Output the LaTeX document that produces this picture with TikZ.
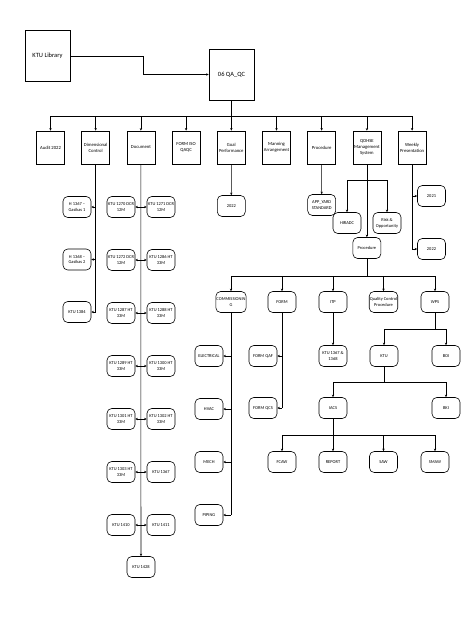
\documentclass[tikz,border=0pt]{standalone}
\usepackage{fontspec}
\setmainfont{Carlito}
\usetikzlibrary{arrows.meta}
\tikzset{mainbox/.style={draw,line width=0.6pt,minimum width=1.35cm,minimum height=1.53cm,font=\fontsize{5.5}{6.5}\selectfont}}
\tikzset{box/.style={draw,line width=0.6pt,minimum width=0.84cm,minimum height=0.99cm,align=center,inner sep=0.5pt,font=\fontsize{4}{5}\selectfont}}
\tikzset{leaf/.style={draw,line width=0.5pt,rounded corners=4pt,minimum width=0.84cm,minimum height=0.63cm,align=center,inner sep=0.5pt,font=\fontsize{3.8}{4.8}\selectfont}}
\tikzset{link/.style={-{Stealth[length=2.2pt,width=2pt]},line width=0.45pt}}
\tikzset{wire/.style={line width=0.45pt}}

\begin{document}
\begin{tikzpicture}[x=0.03cm,y=-0.03cm]
	\useasboundingbox (0,0) rectangle (474,632);

	% Topo
	\node[mainbox] (lib) at (47.5,56) {KTU Library};
	\node[mainbox] (qa) at (231.5,74.5) {06 QA\_QC};
	\coordinate (kink) at (143,74.5);
	\draw[link] (lib.east) -| (kink) -- (qa.west);

	% Categorias
	\coordinate (bus) at (0,116);
	\foreach \t [count=\i] in {Audit 2022,Dimensional\\Control,Document,FORM ISO\\QAQC,Goal\\Performance,Manning\\Arrangement,Procedure,QOHSE\\Management\\System,Weekly\\Presentation}
		\node[box] (c\i) at (50.5+45.2*\i-45.2,147.5) {\t};
	\draw[wire] (qa) -- (qa |- bus);
	\draw[wire] (c1 |- bus) -- (c9 |- bus);
	\foreach \i in {1,...,9}
		\draw[link] (c\i |- bus) -- (c\i);

	% Dimensional Control
	\foreach \t [count=\i] in {{H 1367 --\\Gasikas 1},{H 1368 --\\Gasikas 2},KTU 1384}
		\node[leaf] (dim\i) at (77,207+52.5*\i-52.5) {\t};
	\draw[wire] (c2) -- (c2 |- dim3);
	\foreach \i in {1,2,3}
		\draw[link] (c2 |- dim\i) -- (dim\i);

	% Document
	\foreach \l/\r [count=\i] in {{KTU 1270 DCR\\12M}/{KTU 1271 DCR\\12M},{KTU 1272 DCR\\12M}/{KTU 1286 HT\\33M},{KTU 1287 HT\\33M}/{KTU 1288 HT\\33M},{KTU 1289 HT\\33M}/{KTU 1300 HT\\33M},{KTU 1301 HT\\33M}/{KTU 1302 HT\\33M},{KTU 1303 HT\\33M}/KTU 1367,KTU 1410/KTU 1411} {
		\node[leaf] (dl\i) at (121,207+53*\i-53) {\l};
		\node[leaf] (dr\i) at (161,207+53*\i-53) {\r};
		\draw[link] (c3 |- dl\i) -- (dl\i);
		\draw[link] (c3 |- dr\i) -- (dr\i);
	}
	\node[leaf] (k1428) at (141,567) {KTU 1428};
	\draw[link] (c3) -- (k1428);

	% Goal Performance e Procedure
	\node[leaf] (g2022) at (231.3,206) {2022};
	\draw[link] (c5) -- (g2022);
	\node[leaf] (app) at (321.7,205) {APP\_YARD\\STANDARD};
	\draw[link] (c7) -- (app);

	% QOHSE
	\node[leaf] (hira) at (347,223) {HIRADC};
	\node[leaf] (risk) at (387,223) {Risk \&\\Opportunity};
	\node[leaf] (proc) at (366.9,248) {Procedure};
	\coordinate (qbus) at (0,180);
	\draw[link] (c8) -- (proc);
	\draw[wire] (hira |- qbus) -- (risk |- qbus);
	\draw[link] (hira |- qbus) -- (hira);
	\draw[link] (risk |- qbus) -- (risk);

	% Weekly Presentation
	\node[leaf] (w1) at (431.5,196) {2021};
	\node[leaf] (w2) at (431.5,249) {2022};
	\draw[wire] (c9) -- (c9 |- w2);
	\draw[link] (c9 |- w1) -- (w1);
	\draw[link] (c9 |- w2) -- (w2);

	% Procedure
	\coordinate (pbus) at (0,276);
	\node[leaf] (com) at (231,302) {COMMISSIONIN\\G};
	\node[leaf] (form) at (282,302) {FORM};
	\node[leaf] (itp) at (333,302) {ITP};
	\node[leaf] (qcp) at (383.5,302) {Quality Control\\Procedure};
	\node[leaf] (wps) at (435,302) {WPS};
	\draw[wire] (proc) -- (proc |- pbus);
	\draw[wire] (com |- pbus) -- (wps |- pbus);
	\foreach \n in {com,form,itp,qcp,wps}
		\draw[link] (\n |- pbus) -- (\n);

	% Commissioning
	\foreach \t [count=\i] in {ELECTRICAL,HVAC,MECH,PIPING}
		\node[leaf] (cm\i) at (209,356+53*\i-53) {\t};
	\draw[wire] (com) -- (com |- cm4);
	\foreach \i in {1,...,4}
		\draw[link] (com |- cm\i) -- (cm\i);

	% Form
	\node[leaf] (fm1) at (263,356) {FORM QAF};
	\node[leaf] (fm2) at (263,408) {FORM QCS};
	\draw[wire] (form) -- (form |- fm2);
	\draw[link] (form |- fm1) -- (fm1);
	\draw[link] (form |- fm2) -- (fm2);

	% ITP
	\node[leaf] (k1367) at (333,356) {KTU 1367 \&\\1368};
	\draw[link] (itp) -- (k1367);

	% WPS
	\coordinate (wbus) at (0,329);
	\node[leaf] (wktu) at (384,356) {KTU};
	\node[leaf] (boi) at (446,356) {BOI};
	\draw[wire] (wps) -- (wps |- wbus);
	\draw[wire] (wktu |- wbus) -- (boi |- wbus);
	\draw[link] (wktu |- wbus) -- (wktu);
	\draw[link] (boi |- wbus) -- (boi);

	% KTU
	\coordinate (kbus) at (0,382);
	\node[leaf] (iacs) at (333,408) {IACS};
	\node[leaf] (bki) at (446,408) {BKI};
	\draw[wire] (wktu) -- (wktu |- kbus);
	\draw[wire] (iacs |- kbus) -- (bki |- kbus);
	\draw[link] (iacs |- kbus) -- (iacs);
	\draw[link] (bki |- kbus) -- (bki);

	% IACS
	\coordinate (ibus) at (0,435);
	\foreach \t/\n/\x in {FCAW/fcaw/282,REPORT/rep/333,SAW/saw/383.5,SMAW/smaw/435}
		\node[leaf] (\n) at (\x,462) {\t};
	\draw[wire] (iacs) -- (iacs |- ibus);
	\draw[wire] (fcaw |- ibus) -- (smaw |- ibus);
	\foreach \n in {fcaw,rep,saw,smaw}
		\draw[link] (\n |- ibus) -- (\n);

\end{tikzpicture}
\end{document}
